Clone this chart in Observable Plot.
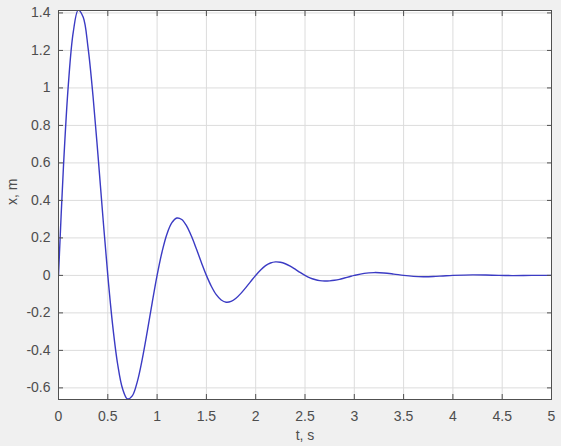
<!DOCTYPE html>
<html>
<head>
<meta charset="utf-8">
<script src="https://cdn.jsdelivr.net/npm/d3@7"></script>
<script src="https://cdn.jsdelivr.net/npm/@observablehq/plot@0.6"></script>
<style>
  html, body { margin: 0; padding: 0; background: #f0f0f0; }
</style>
</head>
<body>
<div id="chart"></div>
<script>
// Values (damped oscillation x(t))
const tValues = [
  0, 0.05, 0.10, 0.15, 0.20, 0.25, 0.30, 0.35, 0.40, 0.45,
  0.50, 0.55, 0.60, 0.65, 0.70, 0.75, 0.80, 0.85, 0.90, 0.95,
  1.00, 1.05, 1.10, 1.15, 1.20, 1.25, 1.30, 1.35, 1.40, 1.45,
  1.50, 1.55, 1.60, 1.65, 1.70, 1.75, 1.80, 1.85, 1.90, 1.95,
  2.00, 2.05, 2.10, 2.15, 2.20, 2.25, 2.30, 2.35, 2.40, 2.45,
  2.50, 2.55, 2.60, 2.65, 2.70, 2.75, 2.80, 2.85, 2.90, 2.95,
  3.00, 3.10, 3.20, 3.30, 3.40, 3.50, 3.60, 3.70, 3.80, 3.90,
  4.00, 4.20, 4.40, 4.60, 4.80, 5.00
];
const xValues = [
  0, 0.578, 1.019, 1.299, 1.415, 1.378, 1.214, 0.957, 0.644, 0.314,
  0, -0.269, -0.474, -0.605, -0.659, -0.641, -0.565, -0.445, -0.300, -0.146,
  0, 0.125, 0.221, 0.281, 0.306, 0.298, 0.263, 0.207, 0.139, 0.068,
  0, -0.058, -0.103, -0.131, -0.143, -0.139, -0.122, -0.096, -0.065, -0.032,
  0, 0.029, 0.052, 0.066, 0.072, 0.070, 0.062, 0.049, 0.033, 0.016,
  0, -0.013, -0.022, -0.028, -0.030, -0.029, -0.026, -0.021, -0.014, -0.007,
  0, 0.011, 0.015, 0.013, 0.007, 0, -0.005, -0.007, -0.006, -0.003,
  0, 0.003, 0.001, -0.001, 0, 0
];
const xTicks = [0, 0.5, 1, 1.5, 2, 2.5, 3, 3.5, 4, 4.5, 5];
const yTicks = [-0.6, -0.4, -0.2, 0, 0.2, 0.4, 0.6, 0.8, 1, 1.2, 1.4];
const xLabel = "t, s";
const yLabel = "x, m";
const xDomain = [0, 5];
const yDomain = [-0.662, 1.413];

const data = tValues.map((t, i) => ({t, x: xValues[i]}));
const fmt = d => String(+d.toFixed(1));

const chart = Plot.plot({
  width: 561,
  height: 446,
  marginLeft: 58,
  marginRight: 10,
  marginTop: 10,
  marginBottom: 47,
  style: {
    background: "#f0f0f0",
    fontFamily: "'Liberation Sans', Arial, Helvetica, sans-serif",
    fontSize: "14px",
    color: "#4d4d4d"
  },
  x: {domain: xDomain, ticks: xTicks, label: null},
  y: {domain: yDomain, ticks: yTicks, label: null},
  marks: [
    Plot.frame({fill: "white", stroke: "none"}),
    Plot.gridX(xTicks, {stroke: "#dcdcdc", strokeOpacity: 1}),
    Plot.gridY(yTicks, {stroke: "#dcdcdc", strokeOpacity: 1}),
    Plot.line(data, {x: "t", y: "x", stroke: "#3b3bc4", strokeWidth: 1.4, curve: "catmull-rom", clip: true}),
    Plot.frame({stroke: "#505050"}),
    Plot.axisX(xTicks, {anchor: "bottom", tickSize: 0, tickPadding: 12, tickFormat: fmt, label: null}),
    Plot.axisX(xTicks, {anchor: "bottom", tickSize: -5, tickFormat: () => "", label: null, stroke: "#505050"}),
    Plot.axisX(xTicks, {anchor: "top", tickSize: -5, tickFormat: () => "", label: null, stroke: "#505050"}),
    Plot.axisY(yTicks, {anchor: "left", tickSize: 0, tickPadding: 8, tickFormat: fmt, label: null}),
    Plot.axisY(yTicks, {anchor: "left", tickSize: -5, tickFormat: () => "", label: null, stroke: "#505050"}),
    Plot.axisY(yTicks, {anchor: "right", tickSize: -5, tickFormat: () => "", label: null, stroke: "#505050"}),
    Plot.text([xLabel], {frameAnchor: "bottom", dy: 40, text: d => d, fill: "#4d4d4d", fontSize: 14}),
    Plot.text([yLabel], {frameAnchor: "left", dx: -46, rotate: -90, text: d => d, fill: "#4d4d4d", fontSize: 14})
  ]
});
document.getElementById("chart").appendChild(chart);
</script>
</body>
</html>
